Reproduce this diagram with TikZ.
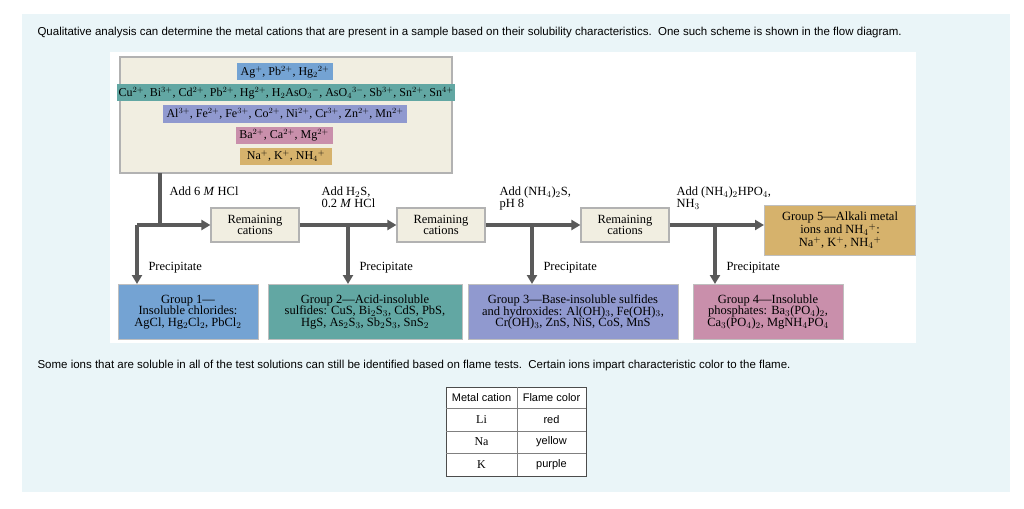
\documentclass[tikz,border=0pt]{standalone}
\usepackage{fontspec}
\setmainfont{Liberation Serif}
\setsansfont{Liberation Sans}
\usetikzlibrary{arrows.meta}

\definecolor{panelbg}{HTML}{EAF5F8}
\definecolor{beige}{HTML}{F1EEE1}
\definecolor{grpblue}{HTML}{74A3D3}
\definecolor{grpteal}{HTML}{62A7A3}
\definecolor{grpviolet}{HTML}{9099CF}
\definecolor{grppink}{HTML}{C98FAB}
\definecolor{grptan}{HTML}{D6B26C}
\definecolor{flowgrey}{HTML}{5A5A5A}

\tikzset{
  ionrow/.style={inner sep=1.5pt, minimum height=17pt, font=\fontsize{12}{12}\selectfont},
  remain/.style={draw=black!30, line width=1.2pt, fill=beige, minimum width=88pt, minimum height=34pt,
    align=center, font=\fontsize{12.5}{11}\selectfont},
  group/.style={draw=black!25, line width=1pt, align=center, inner sep=2pt,
    font=\fontsize{12.5}{11.5}\selectfont},
  flow/.style={flowgrey, line width=3.5pt},
  flowarrow/.style={flow, -{Triangle[length=9pt,width=10pt]}},
  reagent/.style={anchor=north west, align=left, font=\fontsize{12.5}{12}\selectfont},
  prec/.style={anchor=west, font=\fontsize{12.5}{12}\selectfont},
  para/.style={anchor=west, font=\sffamily\fontsize{11.5}{11.5}\selectfont},
  cell/.style={font=\fontsize{12}{11}\selectfont},
  sfcell/.style={font=\sffamily\fontsize{11}{11}\selectfont}
}

\begin{document}
\begin{tikzpicture}[x=1pt, y=-1pt]
  \useasboundingbox (0,0) rectangle (1024,508);
  % Background panels
  \fill[white] (0,0) rectangle (1024,508);
  \fill[panelbg] (22,14) rectangle (1010,492);
  \fill[white] (110,52) rectangle (916,343);

  \node[para] (intro) at (34,33) {Qualitative analysis can determine the metal cations that are present in a sample based on their solubility characteristics.\ \ One such scheme is shown in the flow diagram.};

  % Starting mixture
  \node[draw=black!30, line width=2pt, fill=beige, minimum width=332pt, minimum height=115pt] (mix) at (286,115) {};
  \node[ionrow, fill=grpblue, minimum width=96pt] (r1) at (285,72) {Ag$^{+}$, Pb$^{2+}$, Hg$_2{}^{2+}$};
  \node[ionrow, fill=grpteal, minimum width=322pt] (r2) at (286,93) {Cu$^{2+}$, Bi$^{3+}$, Cd$^{2+}$, Pb$^{2+}$, Hg$^{2+}$, H$_2$AsO$_3{}^{-}$, AsO$_4{}^{3-}$, Sb$^{3+}$, Sn$^{2+}$, Sn$^{4+}$};
  \node[ionrow, fill=grpviolet, minimum width=244pt] (r3) at (285,114) {Al$^{3+}$, Fe$^{2+}$, Fe$^{3+}$, Co$^{2+}$, Ni$^{2+}$, Cr$^{3+}$, Zn$^{2+}$, Mn$^{2+}$};
  \node[ionrow, fill=grppink, minimum width=97pt] (r4) at (284,135) {Ba$^{2+}$, Ca$^{2+}$, Mg$^{2+}$};
  \node[ionrow, fill=grptan, minimum width=92pt] (r5) at (286,156) {Na$^{+}$, K$^{+}$, NH$_4{}^{+}$};

  % Remaining cations and groups
  \node[remain] (rem1) at (255,225) {Remaining\\cations};
  \node[remain] (rem2) at (441,225) {Remaining\\cations};
  \node[remain] (rem3) at (625,225) {Remaining\\cations};
  \node[group, fill=grptan, minimum width=151pt, minimum height=50pt, font=\fontsize{12.5}{13}\selectfont] (g5) at (840,230) {Group 5---Alkali metal\\ions and NH$_4{}^{+}$:\\Na$^{+}$, K$^{+}$, NH$_4{}^{+}$};
  \node[group, fill=grpblue, minimum width=140pt, minimum height=55pt] (g1) at (188,312) {Group 1---\\Insoluble chlorides:\\AgCl, Hg$_2$Cl$_2$, PbCl$_2$};
  \node[group, fill=grpteal, minimum width=194pt, minimum height=55pt] (g2) at (365,312) {Group 2---Acid-insoluble\\sulfides: CuS, Bi$_2$S$_3$, CdS, PbS,\\HgS, As$_2$S$_3$, Sb$_2$S$_3$, SnS$_2$};
  \node[group, fill=grpviolet, minimum width=210pt, minimum height=55pt] (g3) at (573,312) {Group 3---Base-insoluble sulfides\\and hydroxides: Al(OH)$_3$, Fe(OH)$_3$,\\Cr(OH)$_3$, ZnS, NiS, CoS, MnS};
  \node[group, fill=grppink, minimum width=150pt, minimum height=55pt] (g4) at (768,312) {Group 4---Insoluble\\phosphates: Ba$_3$(PO$_4$)$_2$,\\Ca$_3$(PO$_4$)$_2$, MgNH$_4$PO$_4$};

  % Branch points
  \coordinate (s1) at (160,173);
  \coordinate (b1) at (160,225);
  \coordinate (k1) at (137,225);
  \coordinate (k2) at (348,225);
  \coordinate (k3) at (532,225);
  \coordinate (k4) at (715,225);

  % Flow lines
  \draw[flow] (s1) -- (b1);
  \draw[flowarrow] (k1) -- (rem1);
  \draw[flowarrow] (k1) -- (k1 |- g1.north);
  \draw[flowarrow] (rem1) -- (rem2);
  \draw[flowarrow] (k2) -- (k2 |- g2.north);
  \draw[flowarrow] (rem2) -- (rem3);
  \draw[flowarrow] (k3) -- (k3 |- g3.north);
  \draw[flowarrow] (rem3) -- (rem3 -| g5.west);
  \draw[flowarrow] (k4) -- (k4 |- g4.north);

  % Reagents
  \node[reagent] (a1) at (166,183) {Add 6 \textit{M} HCl};
  \node[reagent] (a2) at (318,183) {Add H$_2$S,\\0.2 \textit{M} HCl};
  \node[reagent] (a3) at (496,183) {Add (NH$_4$)$_2$S,\\pH 8};
  \node[reagent] (a4) at (673,183) {Add (NH$_4$)$_2$HPO$_4$,\\NH$_3$};

  \node[prec] (p1) at (145,268) {Precipitate};
  \node[prec] (p2) at (356,268) {Precipitate};
  \node[prec] (p3) at (540,268) {Precipitate};
  \node[prec] (p4) at (723,268) {Precipitate};

  \node[para] (flame) at (34,366) {Some ions that are soluble in all of the test solutions can still be identified based on flame tests.\ \ Certain ions impart characteristic color to the flame.};

  % Flame table
  \fill[white] (446,387) rectangle (586,476);
  \draw[black!70, line width=0.8pt] (446,387) rectangle (586,476);
  \draw[black!50, line width=0.8pt] (517,387) -- (517,476);
  \foreach \yy in {408,431,453} {
    \draw[black!50, line width=0.8pt] (446,\yy) -- (586,\yy);
  }
  \node[sfcell] (h1) at (481.5,397.5) {Metal cation};
  \node[sfcell] (h2) at (551.5,397.5) {Flame color};
  \node[cell] (li) at (481.5,419.5) {Li};
  \node[sfcell] (red) at (551.5,419.5) {red};
  \node[cell] (na) at (481.5,442) {Na};
  \node[sfcell] (yel) at (551.5,442) {yellow};
  \node[cell] (kk) at (481.5,464.5) {K};
  \node[sfcell] (pur) at (551.5,464.5) {purple};
\end{tikzpicture}
\end{document}
